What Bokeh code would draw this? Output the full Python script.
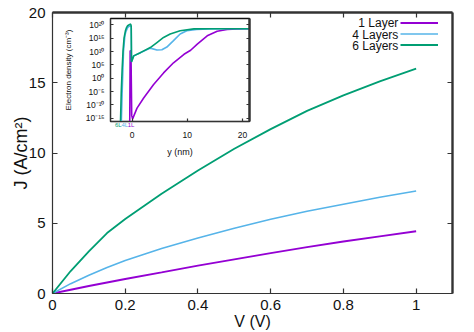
from bokeh.plotting import figure
from bokeh.models import (Range1d, LinearAxis, LogAxis, FixedTicker, CustomJSTickFormatter,
                          Legend, LegendItem, Label)
from bokeh.embed import file_html
from bokeh.resources import INLINE
import numpy as np

FONT = "Liberation Sans"

# ---------------- main chart data ----------------
series_names = ["1 Layer", "4 Layers", "6 Layers"]
series_colors = ["#9400d3", "#56b4e9", "#009e73"]
V = [0, 0.05, 0.1, 0.15, 0.2, 0.3, 0.4, 0.5, 0.6, 0.7, 0.8, 0.9, 1.0]
J_1L = [0, 0.27, 0.53, 0.78, 1.03, 1.5, 1.98, 2.43, 2.87, 3.3, 3.7, 4.07, 4.43]
J_4L = [0, 0.7, 1.3, 1.85, 2.35, 3.2, 3.95, 4.65, 5.28, 5.85, 6.35, 6.85, 7.3]
J_6L = [0, 1.6, 3.0, 4.3, 5.3, 7.1, 8.75, 10.3, 11.7, 13.0, 14.1, 15.1, 16.0]

x_ticks = [0, 0.2, 0.4, 0.6, 0.8, 1.0]
x_tick_labels = ["0", "0.2", "0.4", "0.6", "0.8", "1"]
y_ticks = [0, 5, 10, 15, 20]

# ---------------- inset data (log10 of electron density) ----------------
y1_x = [-0.42, -0.34, -0.2, -0.06, 0.1, 0.9, 2.1, 3.9, 5.7, 7.5, 9.4, 10.6, 11.8, 13.6, 15.4, 17.2, 19.0, 21.25]
y1_log = [-17, 10.3, 10.3, -14, -15.2, -11.2, -7.4, -2.3, 2.0, 5.8, 9.0, 10.5, 12.8, 15.9, 17.6, 18.3, 18.5, 18.55]

y4_x = [-1.95, -1.8, -1.55, -1.3, -1.1, -0.8, -0.5, -0.25, -0.15, -0.1, 0.3, 1.5, 3.3, 4.5, 5.4, 6.3, 7.5, 8.7, 9.9, 11.7, 14.0, 17.0, 21.25]
y4_log = [-17, -6, 10.0, 16.0, 17.6, 19.0, 19.5, 19.6, 19.2, 6.2, 8.4, 9.6, 11.3, 10.6, 10.7, 11.7, 14.1, 16.6, 17.8, 18.3, 18.5, 18.55, 18.55]

y6_x = [-2.1, -1.95, -1.8, -1.63, -1.45, -1.2, -1.0, -0.8, -0.5, -0.25, -0.15, -0.1, 0.3, 1.5, 3.3, 4.5, 5.7, 6.9, 8.7, 11.2, 14.0, 17.0, 21.25]
y6_log = [-17, -5, 3, 10.3, 15, 17.8, 19.0, 19.7, 20.1, 20.3, 19.5, 6.1, 8.4, 9.6, 11.5, 13.4, 15.3, 16.6, 17.8, 18.5, 18.55, 18.55, 18.55]

inset_x_ticks = [0, 10, 20]
inset_y_exps = [-15, -10, -5, 0, 5, 10, 15, 20]
inset_y_labels = ["10⁻¹⁵", "10⁻¹⁰", "10⁻⁵", "10⁰", "10⁵", "10¹⁰", "10¹⁵", "10²⁰"]
layer_marks = ["6L", "4L", "1L"]
layer_mark_colors = ["#009e73", "#56b4e9", "#9400d3"]
# positions of the small layer marks under the inset, in main-plot (V, J) coordinates
layer_mark_v = [0.181, 0.199, 0.216]
layer_mark_j = 11.98

AXC = "#333333"

def style_axis(ax, size, tick_in, standoff, show=True, width=1.2):
    ax.axis_line_color = AXC
    ax.axis_line_width = width
    ax.major_tick_line_color = AXC
    ax.major_tick_line_width = 1.2
    ax.major_tick_in = tick_in
    ax.major_tick_out = 0
    ax.minor_tick_line_color = None
    ax.major_label_text_font = FONT
    ax.major_label_standoff = standoff
    if show:
        ax.major_label_text_font_size = size
        ax.major_label_text_color = "#111111"
    else:
        ax.major_label_text_font_size = "1px"
        ax.major_label_text_color = None
    ax.axis_label_text_font = FONT
    ax.axis_label_text_font_style = "normal"
    ax.axis_label_text_color = "#111111"

# ---------------- main figure ----------------
p = figure(width=474, height=332, x_range=Range1d(0, 1.1), y_range=Range1d(0, 20),
           output_backend="svg", toolbar_location=None,
           min_border_left=52, min_border_right=22, min_border_top=12, min_border_bottom=39)
p.xgrid.visible = False
p.ygrid.visible = False
p.outline_line_color = None
p.background_fill_color = "white"
p.border_fill_color = "white"

xa = p.xaxis[0]
xa.ticker = FixedTicker(ticks=x_ticks)
xa.formatter = CustomJSTickFormatter(args=dict(xt=x_ticks, xl=x_tick_labels),
    code="const i = xt.findIndex(t => Math.abs(t - tick) < 1e-9); return i >= 0 ? xl[i] : '';")
style_axis(xa, "15px", 5, 6)
xa.axis_label = "V (V)"
xa.axis_label_text_font_size = "16px"
xa.axis_label_standoff = 0

ya = p.yaxis[0]
ya.ticker = FixedTicker(ticks=y_ticks)
style_axis(ya, "15px", 5, 7)
ya.axis_label = "J (A/cm²)"
ya.axis_label_text_font_size = "18px"
ya.axis_label_standoff = -5

top = LinearAxis(ticker=FixedTicker(ticks=x_ticks))
style_axis(top, "1px", 5, 0, show=False, width=2.4)
p.add_layout(top, "above")
right = LinearAxis(ticker=FixedTicker(ticks=y_ticks))
style_axis(right, "1px", 5, 0, show=False, width=2.4)
p.add_layout(right, "right")

renderers = []
for ys, c, w in zip([J_1L, J_4L, J_6L], series_colors, [1.9, 1.6, 1.8]):
    renderers.append(p.line(V, ys, line_color=c, line_width=w))

legend = Legend(items=[LegendItem(label=" ", renderers=[r]) for r in renderers],
                location=(348, 243), glyph_width=38, glyph_height=11, label_height=11,
                label_width=0, label_standoff=0, padding=0, margin=0, spacing=0,
                label_text_font_size="2px", label_text_color=None,
                border_line_color=None, background_fill_alpha=0)
p.add_layout(legend)
legend_y = [19.24, 18.43, 17.60]
for name, ly in zip(series_names, legend_y):
    p.add_layout(Label(x=0.951, y=ly, text=name, text_align="right", text_baseline="middle",
                       text_font=FONT, text_font_size="12px", text_color="#111111"))

for t, lv, c in zip(layer_marks, layer_mark_v, layer_mark_colors):
    p.add_layout(Label(x=lv, y=layer_mark_j, text=t, text_align="center", text_baseline="middle",
                       text_font=FONT, text_font_size="6px", text_color=c))

# ---------------- inset figure ----------------
inset = figure(width=197, height=144, x_range=Range1d(-3.9, 21.25),
               y_range=Range1d(10 ** -16.2, 10 ** 22.4), y_axis_type="log",
               output_backend="svg", toolbar_location=None,
               min_border_left=55, min_border_right=3, min_border_top=3, min_border_bottom=38)
inset.styles = {"position": "absolute", "left": "55px", "top": "15px", "z-index": "10"}
inset.xgrid.visible = False
inset.ygrid.visible = False
inset.outline_line_color = "#111111"
inset.outline_line_width = 1.3
inset.background_fill_color = "white"
inset.border_fill_color = None
inset.border_fill_alpha = 0

ixa = inset.xaxis[0]
ixa.ticker = FixedTicker(ticks=inset_x_ticks)
style_axis(ixa, "8.5px", 3, 10)
ixa.axis_label = "y (nm)"
ixa.axis_label_text_font_size = "9px"
ixa.axis_label_standoff = 6

iya = inset.yaxis[0]
iya.ticker = FixedTicker(ticks=[10.0 ** e for e in inset_y_exps])
iya.formatter = CustomJSTickFormatter(args=dict(ex=inset_y_exps, lb=inset_y_labels),
    code="const e = Math.round(Math.log10(tick)); const i = ex.indexOf(e); return i >= 0 ? lb[i] : '';")
style_axis(iya, "8.5px", 3, 6)
iya.axis_label = "Electron density (cm⁻³)"
iya.axis_label_text_font_size = "8px"
iya.axis_label_standoff = 10

iright = LogAxis(ticker=FixedTicker(ticks=[10.0 ** e for e in inset_y_exps]))
style_axis(iright, "1px", 3, 0, show=False, width=2.4)
inset.add_layout(iright, "right")

for xs, logs, c in zip([y1_x, y4_x, y6_x], [y1_log, y4_log, y6_log], series_colors):
    inset.line(xs, np.power(10.0, logs), line_color=c, line_width=1.6)

open("out.html", "w").write(file_html([p, inset], INLINE))
